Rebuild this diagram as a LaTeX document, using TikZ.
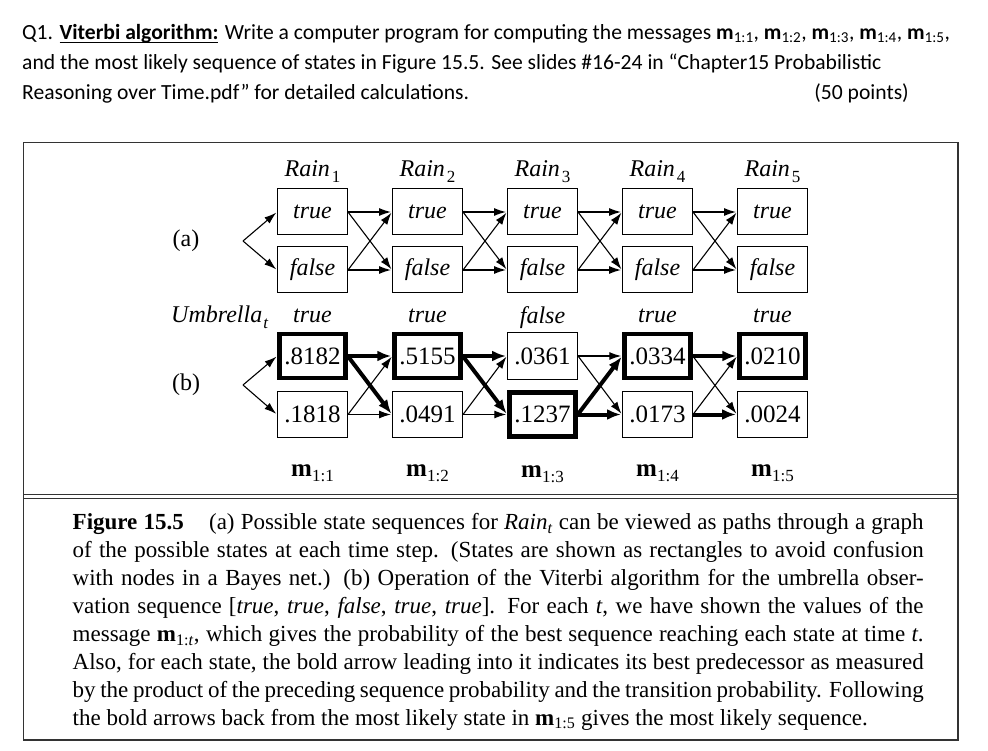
\documentclass[tikz,border=0pt]{standalone}
\usepackage{fontspec}
\setmainfont{Liberation Serif}
\newfontfamily\qfont{Carlito}
\usetikzlibrary{positioning,arrows.meta}
\newlength{\qullen}
\newcommand{\qul}[1]{\settowidth{\qullen}{#1}\rlap{\rule[-4pt]{\qullen}{1.8pt}}#1}
\newcommand{\rainlab}[1]{\textit{Rain}\kern2pt\raisebox{-6pt}{\upshape\fontsize{17}{17}\selectfont #1}}
\newcommand{\msglab}[1]{\textbf{m}\raisebox{-5pt}{\fontsize{17}{17}\selectfont #1}}
\tikzstyle{qtext} = [inner sep=0pt, font=\qfont\fontsize{21.6}{21.6}\selectfont]
\tikzstyle{frame} = [line width=1.4pt, draw=black!80]
\tikzstyle{state} = [rectangle, draw=black, line width=1pt, minimum width=70pt, minimum height=46pt, inner sep=0pt, text centered, font=\fontsize{24}{24}\selectfont\itshape]
\tikzstyle{msg} = [state, font=\fontsize{25}{25}\selectfont]
\tikzstyle{best} = [msg, line width=4.5pt, minimum width=66pt, minimum height=44pt]
\tikzstyle{lab} = [inner sep=0pt, font=\fontsize{24}{24}\selectfont\itshape]
\tikzstyle{obs} = [lab, text depth=0pt]
\tikzstyle{tag} = [inner sep=0pt, font=\fontsize{24}{24}\selectfont]
\tikzstyle{mlab} = [inner sep=0pt, font=\fontsize{25}{25}\selectfont]
\tikzstyle{captext} = [inner sep=0pt, align=left, font=\fontsize{23}{27.9}\selectfont]
\tikzstyle{arrow} = [line width=1.1pt, shorten >=1pt, -{Latex[length=12pt,width=8pt]}]
\tikzstyle{boldarrow} = [line width=4pt, shorten >=1pt, -{Latex[length=14pt,width=11pt]}]

\begin{document}
\begin{tikzpicture}[x=1pt, y=1pt, node distance=115pt]
\useasboundingbox (0,0) rectangle (988,-751);

% question
\node (q1) [qtext, anchor=base west] at (22,-39.5) {Q1. \qul{\textbf{Viterbi algorithm:}} Write a computer program for computing the messages \textbf{m}\textsubscript{1:1}, \textbf{m}\textsubscript{1:2}, \textbf{m}\textsubscript{1:3}, \textbf{m}\textsubscript{1:4}, \textbf{m}\textsubscript{1:5},};
\node (q2) [qtext, anchor=base west] at (22,-70) {and the most likely sequence of states in Figure 15.5. See slides \#16-24 in “Chapter15 Probabilistic};
\node (q3) [qtext, anchor=base west] at (22,-100) {Reasoning over Time.pdf” for detailed calculations.};
\node (pts) [qtext, anchor=base east] at (909,-100) {(50 points)};

% figure frame
\draw [frame] (23.5,-142.5) rectangle (958,-740);
\draw [frame, line width=1pt] (23.5,-494.3) -- (958,-494.3);
\draw [frame, line width=1pt] (23.5,-498.3) -- (958,-498.3);

% (a) state graph
\node (pa) [tag] at (186,-241) {(a)};
\coordinate (sa) at (243,-241);
\node (ta1) [state] at (312.5,-212) {true};
\node (fa1) [state, below of=ta1, node distance=58pt] {false};
\node (ta2) [state, right of=ta1] {true};
\node (fa2) [state, right of=fa1] {false};
\node (ta3) [state, right of=ta2] {true};
\node (fa3) [state, right of=fa2] {false};
\node (ta4) [state, right of=ta3] {true};
\node (fa4) [state, right of=fa3] {false};
\node (ta5) [state, right of=ta4] {true};
\node (fa5) [state, right of=fa4] {false};
\node (ra1) [lab, above=6pt of ta1] {\rainlab{1}};
\node (ra2) [lab, above=6pt of ta2] {\rainlab{2}};
\node (ra3) [lab, above=6pt of ta3] {\rainlab{3}};
\node (ra4) [lab, above=6pt of ta4] {\rainlab{4}};
\node (ra5) [lab, above=6pt of ta5] {\rainlab{5}};
\draw [arrow] (sa) -- (ta1.west);
\draw [arrow] (sa) -- (fa1.west);
\draw [arrow] (ta1.east) -- (ta2.west);
\draw [arrow] (ta1.east) -- (fa2.west);
\draw [arrow] (fa1.east) -- (ta2.west);
\draw [arrow] (fa1.east) -- (fa2.west);
\draw [arrow] (ta2.east) -- (ta3.west);
\draw [arrow] (ta2.east) -- (fa3.west);
\draw [arrow] (fa2.east) -- (ta3.west);
\draw [arrow] (fa2.east) -- (fa3.west);
\draw [arrow] (ta3.east) -- (ta4.west);
\draw [arrow] (ta3.east) -- (fa4.west);
\draw [arrow] (fa3.east) -- (ta4.west);
\draw [arrow] (fa3.east) -- (fa4.west);
\draw [arrow] (ta4.east) -- (ta5.west);
\draw [arrow] (ta4.east) -- (fa5.west);
\draw [arrow] (fa4.east) -- (ta5.west);
\draw [arrow] (fa4.east) -- (fa5.west);

% (b) viterbi messages
\node (pb) [tag] at (186,-385) {(b)};
\coordinate (sb) at (243,-385);
\node (tb1) [best] at (312.5,-356) {.8182};
\node (fb1) [msg, below of=tb1, node distance=58.5pt] {.1818};
\node (tb2) [best, right of=tb1] {.5155};
\node (fb2) [msg, right of=fb1] {.0491};
\node (tb3) [msg, right of=tb2] {.0361};
\node (fb3) [best, right of=fb2] {.1237};
\node (tb4) [best, right of=tb3] {.0334};
\node (fb4) [msg, right of=fb3] {.0173};
\node (tb5) [best, right of=tb4] {.0210};
\node (fb5) [msg, right of=fb4] {.0024};
\node (umb) [lab, anchor=base west] at (171,-323) {Umbrella\kern1pt\raisebox{-6pt}{\fontsize{17}{17}\selectfont t}};
\node (ob1) [obs, above=9pt of tb1] {true};
\node (ob2) [obs, above=9pt of tb2] {true};
\node (ob3) [obs, above=9pt of tb3] {false};
\node (ob4) [obs, above=9pt of tb4] {true};
\node (ob5) [obs, above=9pt of tb5] {true};
\node (m1) [mlab, below=27pt of fb1] {\msglab{1:1}};
\node (m2) [mlab, below=27pt of fb2] {\msglab{1:2}};
\node (m3) [mlab, below=27pt of fb3] {\msglab{1:3}};
\node (m4) [mlab, below=27pt of fb4] {\msglab{1:4}};
\node (m5) [mlab, below=27pt of fb5] {\msglab{1:5}};
\draw [arrow] (sb) -- (tb1.west);
\draw [arrow] (sb) -- (fb1.west);
\draw [boldarrow] (tb1.east) -- (tb2.west);
\draw [boldarrow] (tb1.east) -- (fb2.west);
\draw [arrow] (fb1.east) -- (tb2.west);
\draw [arrow] (fb1.east) -- (fb2.west);
\draw [boldarrow] (tb2.east) -- (tb3.west);
\draw [boldarrow] (tb2.east) -- (fb3.west);
\draw [arrow] (fb2.east) -- (tb3.west);
\draw [arrow] (fb2.east) -- (fb3.west);
\draw [arrow] (tb3.east) -- (tb4.west);
\draw [arrow] (tb3.east) -- (fb4.west);
\draw [boldarrow] (fb3.east) -- (tb4.west);
\draw [boldarrow] (fb3.east) -- (fb4.west);
\draw [boldarrow] (tb4.east) -- (tb5.west);
\draw [arrow] (tb4.east) -- (fb5.west);
\draw [arrow] (fb4.east) -- (tb5.west);
\draw [boldarrow] (fb4.east) -- (fb5.west);

% caption
\node (cap) [captext, anchor=north west] at (72.5,-513.5) {%
\makebox[851pt][s]{\textbf{Figure 15.5}\hspace{1.1em}(a) Possible state sequences for \textit{Rain}\textsubscript{\textit{t}} can be viewed as paths through a graph}\\
\makebox[851pt][s]{of the possible states at each time step. (States are shown as rectangles to avoid confusion}\\
\makebox[851pt][s]{with nodes in a Bayes net.) (b) Operation of the Viterbi algorithm for the umbrella obser-}\\
\makebox[851pt][s]{vation sequence [\textit{true}, \textit{true}, \textit{false}, \textit{true}, \textit{true}]. For each \textit{t}, we have shown the values of the}\\
\makebox[851pt][s]{message \textbf{m}\textsubscript{1:\textit{t}}, which gives the probability of the best sequence reaching each state at time \textit{t}.}\\
\makebox[851pt][s]{Also, for each state, the bold arrow leading into it indicates its best predecessor as measured}\\
\makebox[851pt][s]{by the product of the preceding sequence probability and the transition probability. Following}\\
the bold arrows back from the most likely state in \textbf{m}\textsubscript{1:5} gives the most likely sequence.};
\end{tikzpicture}
\end{document}
